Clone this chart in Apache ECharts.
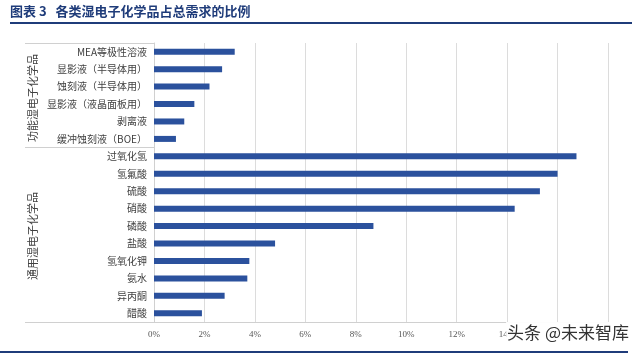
<!DOCTYPE html>
<html><head><meta charset="utf-8">
<script src="https://cdn.jsdelivr.net/npm/echarts@6/dist/echarts.min.js"></script>
<style>html,body{margin:0;padding:0;background:#fff}#c{width:640px;height:357px}</style>
</head><body><div id="c"></div>
<script>
const categories = ['MEA等极性溶液','显影液（半导体用）','蚀刻液（半导体用）','显影液（液晶面板用）','剥离液','缓冲蚀刻液（BOE）',
  '过氧化氢','氢氟酸','硫酸','硝酸','磷酸','盐酸','氢氧化钾','氨水','异丙酮','醋酸'];
const shares = [3.2, 2.7, 2.2, 1.6, 1.2, 0.87, 16.75, 16.0, 15.3, 14.3, 8.7, 4.8, 3.78, 3.7, 2.8, 1.9];
const groupLabels = ['功能湿电子化学品', '通用湿电子化学品'];
const tickLabels = ['0%','2%','4%','6%','8%','10%','12%','14%','16%','18%'];

const chart = echarts.init(document.getElementById('c'));
const lineStyle = {stroke:'#d0d0d0', lineWidth:1};
chart.setOption({
  animation:false,
  grid:{left:154, right:32, top:43, bottom:35},
  xAxis:{type:'value', min:0, max:18, interval:2,
    axisLine:{show:true, lineStyle:{color:'#d0d0d0'}}, axisTick:{show:false},
    splitLine:{show:true, lineStyle:{color:'#dcdcdc'}},
    axisLabel:{formatter:(v)=>tickLabels[Math.round(v/2)], fontFamily:'Liberation Serif', fontSize:9, color:'#555', margin:8}},
  yAxis:{type:'category', data:categories, inverse:true,
    axisLine:{show:true, lineStyle:{color:'#d0d0d0'}}, axisTick:{show:false},
    axisLabel:{fontFamily:'Noto Sans CJK SC', fontSize:10, color:'#404040', margin:7}},
  series:[{type:'bar', data:shares, barWidth:6, itemStyle:{color:'#2b519d'}}],
  graphic:[
    {type:'text', left:10, top:5, style:{text:'图表 3   各类湿电子化学品占总需求的比例', font:'bold 13px "Noto Sans CJK SC"', fill:'#1f3c7a'}},
    {type:'line', shape:{x1:10,y1:23,x2:632,y2:23}, style:{stroke:'#1f3c7a', lineWidth:2}},
    {type:'line', shape:{x1:0,y1:352,x2:628,y2:352}, style:{stroke:'#1f3c7a', lineWidth:2}},
    {type:'line', shape:{x1:25,y1:43.5,x2:154,y2:43.5}, style:lineStyle},
    {type:'line', shape:{x1:25,y1:147.5,x2:154,y2:147.5}, style:lineStyle},
    {type:'line', shape:{x1:25,y1:322.5,x2:154,y2:322.5}, style:lineStyle},
    {type:'text', x:33, y:98, rotation:Math.PI/2, style:{text:groupLabels[0], font:'11px "Noto Sans CJK SC"', fill:'#404040', textAlign:'center', textVerticalAlign:'middle'}},
    {type:'text', x:33, y:236, rotation:Math.PI/2, style:{text:groupLabels[1], font:'11px "Noto Sans CJK SC"', fill:'#404040', textAlign:'center', textVerticalAlign:'middle'}},
    {type:'text', right:10, top:322, z:100, style:{text:'头条 @未来智库', font:'17px "Noto Sans CJK SC"', fill:'#333', backgroundColor:'rgba(255,255,255,0.95)', padding:[2,1]}}
  ]
});
</script></body></html>
